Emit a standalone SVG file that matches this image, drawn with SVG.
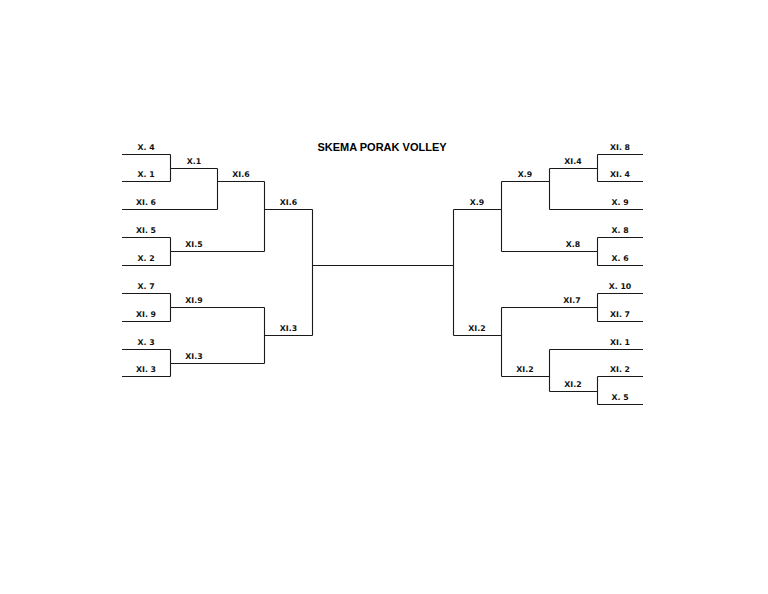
<svg xmlns="http://www.w3.org/2000/svg" width="768" height="594" viewBox="0 0 768 594">
<style>
.l{stroke:#1a1a1a;stroke-width:1.1;fill:none}
.t{font-family:"DejaVu Sans",sans-serif;font-weight:bold;font-size:7.8px;fill:#111;text-anchor:middle}
.h{font-family:"Liberation Sans",Arial,sans-serif;font-weight:bold;font-size:11px;fill:#000;text-anchor:middle}
</style>
<rect width="768" height="594" fill="#fff"/>
<text class="h" x="382" y="150.8">SKEMA PORAK VOLLEY</text>

<g id="L-X4"><path class="l" d="M122 154.5H170.5"/><text class="t" x="146" y="149.5">X. 4</text></g>
<g id="L-X1"><path class="l" d="M122 181.5H170.5"/><text class="t" x="146" y="176.5">X. 1</text></g>
<g id="L-XI6"><path class="l" d="M122 209.5H217.5"/><text class="t" x="146" y="204.5">XI. 6</text></g>
<g id="L-XI5"><path class="l" d="M122 237.5H170.5"/><text class="t" x="146" y="232.5">XI. 5</text></g>
<g id="L-X2"><path class="l" d="M122 265.5H170.5"/><text class="t" x="146" y="260.5">X. 2</text></g>
<g id="L-X7"><path class="l" d="M122 293.5H170.5"/><text class="t" x="146" y="288.5">X. 7</text></g>
<g id="L-XI9"><path class="l" d="M122 321.5H170.5"/><text class="t" x="146" y="316.5">XI. 9</text></g>
<g id="L-X3"><path class="l" d="M122 349.5H170.5"/><text class="t" x="146" y="344.5">X. 3</text></g>
<g id="L-XI3"><path class="l" d="M122 376.5H170.5"/><text class="t" x="146" y="371.5">XI. 3</text></g>
<g id="L-W-X1"><path class="l" d="M170.5 168.5H217.5"/><text class="t" x="194" y="163.5">X.1</text></g>
<g id="L-W-XI6"><path class="l" d="M217.5 181.5H264.5"/><text class="t" x="241" y="176.5">XI.6</text></g>
<g id="L-W-XI5"><path class="l" d="M170.5 251.5H264.5"/><text class="t" x="194" y="246.5">XI.5</text></g>
<g id="L-W-XI9"><path class="l" d="M170.5 307.5H264.5"/><text class="t" x="194" y="302.5">XI.9</text></g>
<g id="L-W-XI3"><path class="l" d="M170.5 363.5H264.5"/><text class="t" x="194" y="358.5">XI.3</text></g>
<g id="L-S-XI6"><path class="l" d="M264.5 209.5H312.5"/><text class="t" x="288.5" y="204.5">XI.6</text></g>
<g id="L-S-XI3"><path class="l" d="M264.5 335.5H312.5"/><text class="t" x="288.5" y="330.5">XI.3</text></g>
<g id="final"><path class="l" d="M312.5 265.5H453.5"/></g>

<g id="R-XI8"><path class="l" d="M597.5 154.5H643"/><text class="t" x="620" y="149.5">XI. 8</text></g>
<g id="R-XI4"><path class="l" d="M597.5 181.5H643"/><text class="t" x="620" y="176.5">XI. 4</text></g>
<g id="R-X9"><path class="l" d="M549.5 209.5H643"/><text class="t" x="620" y="204.5">X. 9</text></g>
<g id="R-X8"><path class="l" d="M597.5 237.5H643"/><text class="t" x="620" y="232.5">X. 8</text></g>
<g id="R-X6"><path class="l" d="M597.5 265.5H643"/><text class="t" x="620" y="260.5">X. 6</text></g>
<g id="R-X10"><path class="l" d="M597.5 293.5H643"/><text class="t" x="620" y="288.5">X. 10</text></g>
<g id="R-XI7"><path class="l" d="M597.5 321.5H643"/><text class="t" x="620" y="316.5">XI. 7</text></g>
<g id="R-XI1"><path class="l" d="M549.5 349.5H643"/><text class="t" x="620" y="344.5">XI. 1</text></g>
<g id="R-XI2"><path class="l" d="M597.5 376.5H643"/><text class="t" x="620" y="371.5">XI. 2</text></g>
<g id="R-X5"><path class="l" d="M597.5 404.5H643"/><text class="t" x="620" y="399.5">X. 5</text></g>
<g id="R-W-XI4"><path class="l" d="M549.5 168.5H597.5"/><text class="t" x="573" y="163.5">XI.4</text></g>
<g id="R-W-X9"><path class="l" d="M501.5 181.5H549.5"/><text class="t" x="525" y="176.5">X.9</text></g>
<g id="R-W-X8"><path class="l" d="M501.5 251.5H597.5"/><text class="t" x="573" y="246.5">X.8</text></g>
<g id="R-W-XI7"><path class="l" d="M501.5 307.5H597.5"/><text class="t" x="572" y="302.5">XI.7</text></g>
<g id="R-W-XI2a"><path class="l" d="M549.5 391.5H597.5"/><text class="t" x="573" y="386.5">XI.2</text></g>
<g id="R-W-XI2b"><path class="l" d="M501.5 376.5H549.5"/><text class="t" x="525" y="371.5">XI.2</text></g>
<g id="R-S-X9"><path class="l" d="M453.5 209.5H501.5"/><text class="t" x="477" y="204.5">X.9</text></g>
<g id="R-S-XI2"><path class="l" d="M453.5 335.5H501.5"/><text class="t" x="477" y="330.5">XI.2</text></g>

<g id="connectors" class="l">
<path d="M170.5 154.5V181.5M217.5 168.5V209.5M170.5 237.5V265.5M264.5 181.5V251.5M170.5 293.5V321.5M170.5 349.5V376.5M264.5 307.5V363.5M312.5 209.5V335.5"/>
<path d="M597.5 154.5V181.5M549.5 168.5V209.5M597.5 237.5V265.5M501.5 181.5V251.5M453.5 209.5V335.5M597.5 293.5V321.5M597.5 376.5V404.5M549.5 349.5V391.5M501.5 307.5V376.5"/>
</g>
</svg>
